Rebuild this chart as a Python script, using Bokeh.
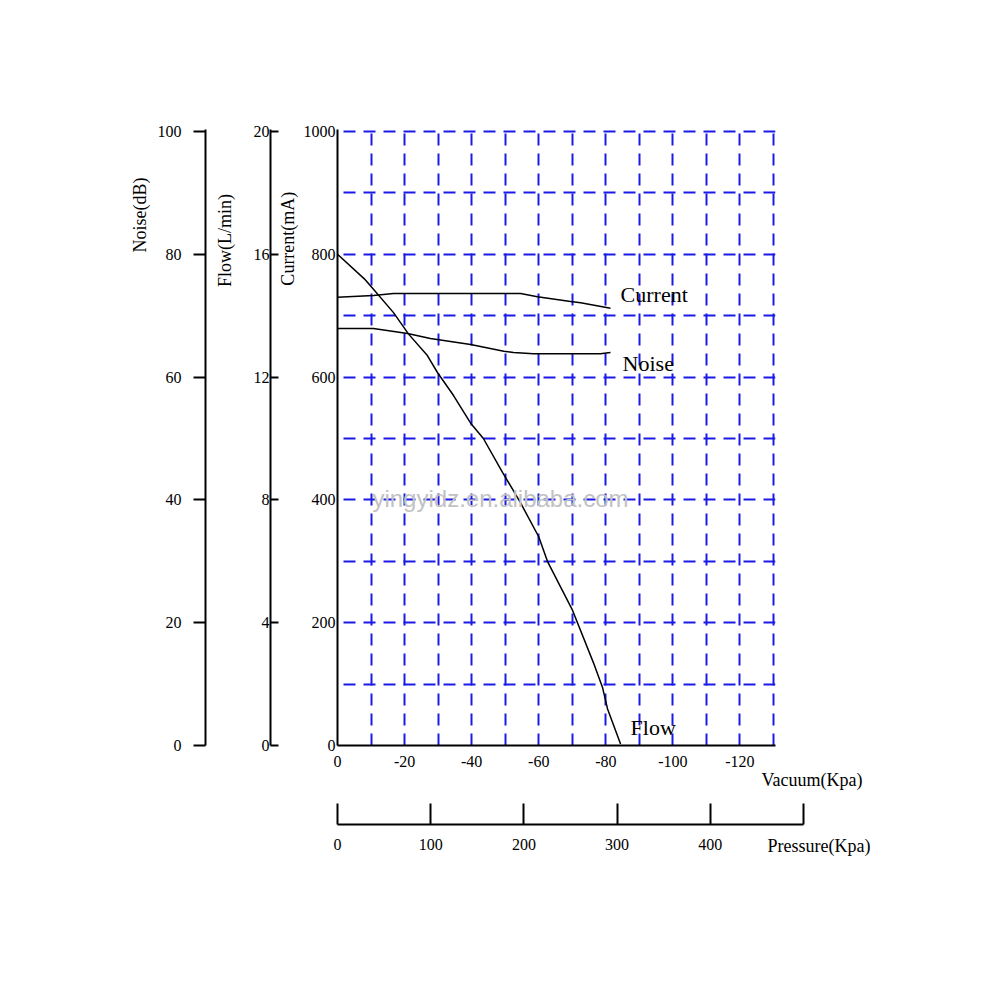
import math
from bokeh.plotting import figure
from bokeh.models import Range1d, FixedTicker, Label, Title
from bokeh.core.properties import value
from bokeh.layouts import row, column
from bokeh.embed import file_html
from bokeh.resources import INLINE

# ---------------- data ----------------
vacuum_ticks = [0, -20, -40, -60, -80, -100, -120]
vacuum_labels = ["0", "-20", "-40", "-60", "-80", "-100", "-120"]
vacuum_grid = [0, -10, -20, -30, -40, -50, -60, -70, -80, -90, -100, -110, -120, -130]
pressure_ticks = [0, 100, 200, 300, 400, 500]
pressure_labels = ["0", "100", "200", "300", "400", ""]
current_ticks = [0, 200, 400, 600, 800, 1000]
current_grid = [0, 100, 200, 300, 400, 500, 600, 700, 800, 900, 1000]
flow_ticks = [0, 4, 8, 12, 16, 20]
noise_ticks = [0, 20, 40, 60, 80, 100]

flow_vac = [0, -8, -10.4, -16.7, -21.2, -26.8, -29.8, -34.6, -39.7, -43.5, -49.2, -54.6,
            -60, -62.6, -70.1, -76.3, -79, -80.5, -84.4]
flow_val = [16.0, 15.2, 14.9, 14.1, 13.4, 12.7, 12.15, 11.4, 10.5, 10.0, 8.9, 7.9,
            6.8, 6.0, 4.4, 2.7, 1.9, 1.2, 0.05]

cur_vac = [0, -10.7, -16.7, -48.6, -54.6, -59.6, -69.5, -72.5, -81.4]
cur_val = [730, 733, 736, 736, 736, 731, 723, 721, 712]

noise_vac = [0, -10.7, -20.9, -27.7, -39.7, -49.6, -52.5, -58.4, -78.4, -81.4]
noise_val = [67.9, 67.9, 67.1, 66.3, 65.3, 64.2, 64.0, 63.8, 63.8, 64.0]

FONT = "Liberation Serif"
TICK_SIZE = "16px"
TITLE_SIZE = "18px"
GRID_BLUE = "#1a1ae6"

# ranges padded by 2 px so the edge grid lines at 1000 mA / -130 kPa stay visible
PAD_Y = 1.00326
CUR_MAX = 1000 * PAD_Y
FLOW_MAX = 20 * PAD_Y
NOISE_MAX = 100 * PAD_Y
VAC_MIN = -130.6
TOP = 129
BOTTOM = 55
H = 800


def style_axis(ax):
    ax.axis_line_color = "black"
    ax.axis_line_width = 2
    ax.major_tick_line_color = "black"
    ax.major_tick_line_width = 2
    ax.minor_tick_line_color = None
    ax.major_label_text_font = FONT
    ax.major_label_text_font_size = TICK_SIZE
    ax.major_label_text_color = "black"


def side_title(text, align, offset, standoff, valign="bottom"):
    return Title(text=text, align=align, offset=offset, standoff=standoff, text_font=FONT,
                 vertical_align=valign, text_font_size=TITLE_SIZE, text_font_style="normal",
                 text_color="black")


def vertical_text(fig, x, y, text):
    fig.text(x=[x], y=[y], text=[text], angle=math.pi / 2, text_font=value(FONT),
             text_font_size=value(TITLE_SIZE), text_align="center", text_baseline="middle",
             text_color="black")


# ---------------- main figure (current axis, vacuum axis, curves) ----------------
p = figure(width=700, height=H, x_range=Range1d(0, VAC_MIN), y_range=Range1d(0, CUR_MAX),
           output_backend="svg", toolbar_location=None,
           min_border_left=37, min_border_right=225, min_border_top=TOP, min_border_bottom=BOTTOM)
p.extra_y_ranges = {"flow": Range1d(0, FLOW_MAX), "noise": Range1d(0, NOISE_MAX)}
p.outline_line_color = None

xa = p.xaxis[0]
style_axis(xa)
xa.ticker = FixedTicker(ticks=vacuum_ticks)
xa.major_label_overrides = {t: l for t, l in zip(vacuum_ticks, vacuum_labels)}
xa.major_tick_in = 0
xa.major_tick_out = 0
xa.major_label_standoff = 10

ya = p.yaxis[0]
style_axis(ya)
ya.ticker = FixedTicker(ticks=current_ticks)
ya.major_tick_in = 0
ya.major_tick_out = 0
ya.major_label_standoff = 2

p.xgrid.ticker = FixedTicker(ticks=vacuum_grid)
p.ygrid.ticker = FixedTicker(ticks=current_grid)
for g in (p.xgrid[0], p.ygrid[0]):
    g.grid_line_color = GRID_BLUE
    g.grid_line_width = 2
    g.grid_line_dash = "12 8"

p.line(cur_vac, cur_val, line_color="black", line_width=1.5)
p.line(noise_vac, noise_val, y_range_name="noise", line_color="black", line_width=1.5)
p.line(flow_vac, flow_val, y_range_name="flow", line_color="black", line_width=1.5)

p.add_layout(Label(x=-84.4, y=734, text="Current", text_font=FONT, text_font_size="22px",
                   text_align="left", text_baseline="middle", text_color="black"))
p.add_layout(Label(x=-85.0, y=622, text="Noise", text_font=FONT, text_font_size="22px",
                   text_align="left", text_baseline="middle", text_color="black"))
p.add_layout(Label(x=-87.4, y=29, text="Flow", text_font=FONT, text_font_size="22px",
                   text_align="left", text_baseline="middle", text_color="black"))
p.add_layout(Label(x=-48.6, y=402, text="yingyidz.en.alibaba.com", text_font="Liberation Sans",
                   text_font_size="24px", text_align="center", text_baseline="middle",
                   text_color="#c2c2c2"))
p.add_layout(side_title("Vacuum(Kpa)", "right", -87, -4), "below")

# ---------------- flow axis figure (frame also carries the Current(mA) title) ----------------
pf = figure(width=60, height=H, x_range=Range1d(0, 30), y_range=Range1d(0, FLOW_MAX),
            output_backend="svg", toolbar_location=None, x_axis_location=None,
            min_border_left=30, min_border_right=0, min_border_top=TOP, min_border_bottom=BOTTOM)
pf.outline_line_color = None
pf.grid.visible = False
fa = pf.yaxis[0]
style_axis(fa)
fa.ticker = FixedTicker(ticks=flow_ticks)
fa.major_tick_in = 8
fa.major_tick_out = 0
fa.major_label_standoff = 1
vertical_text(pf, 17, 16.51, "Current(mA)")

# ---------------- noise axis figure (frame also carries the Flow(L/min) title) ----------------
pn = figure(width=240, height=H, x_range=Range1d(0, 35), y_range=Range1d(0, NOISE_MAX),
            output_backend="svg", toolbar_location=None, x_axis_location=None,
            min_border_left=205, min_border_right=0, min_border_top=TOP, min_border_bottom=BOTTOM)
pn.outline_line_color = None
pn.grid.visible = False
na = pn.yaxis[0]
style_axis(na)
na.ticker = FixedTicker(ticks=noise_ticks)
na.major_tick_in = 0
na.major_tick_out = 12
na.major_label_standoff = 12
pn.add_layout(side_title("Noise(dB)", "right", 48, 10), "left")
vertical_text(pn, 19, 82.25, "Flow(L/min)")

# ---------------- pressure axis figure ----------------
pp = figure(width=1000, height=84, x_range=Range1d(0, 500), y_range=Range1d(0, 1),
            output_backend="svg", toolbar_location=None, y_axis_location=None,
            min_border_left=337, min_border_right=197, min_border_top=23, min_border_bottom=60)
pp.outline_line_color = None
pp.grid.visible = False
pa = pp.xaxis[0]
style_axis(pa)
pa.ticker = FixedTicker(ticks=pressure_ticks)
pa.major_label_overrides = {t: l for t, l in zip(pressure_ticks, pressure_labels)}
pa.major_tick_in = 21
pa.major_tick_out = 0
pa.major_label_standoff = 14
pp.add_layout(side_title("Pressure(Kpa)", "right", -67, -34, "top"), "below")

layout = column(row(pn, pf, p), pp)

open("out.html", "w").write(file_html(layout, INLINE))
